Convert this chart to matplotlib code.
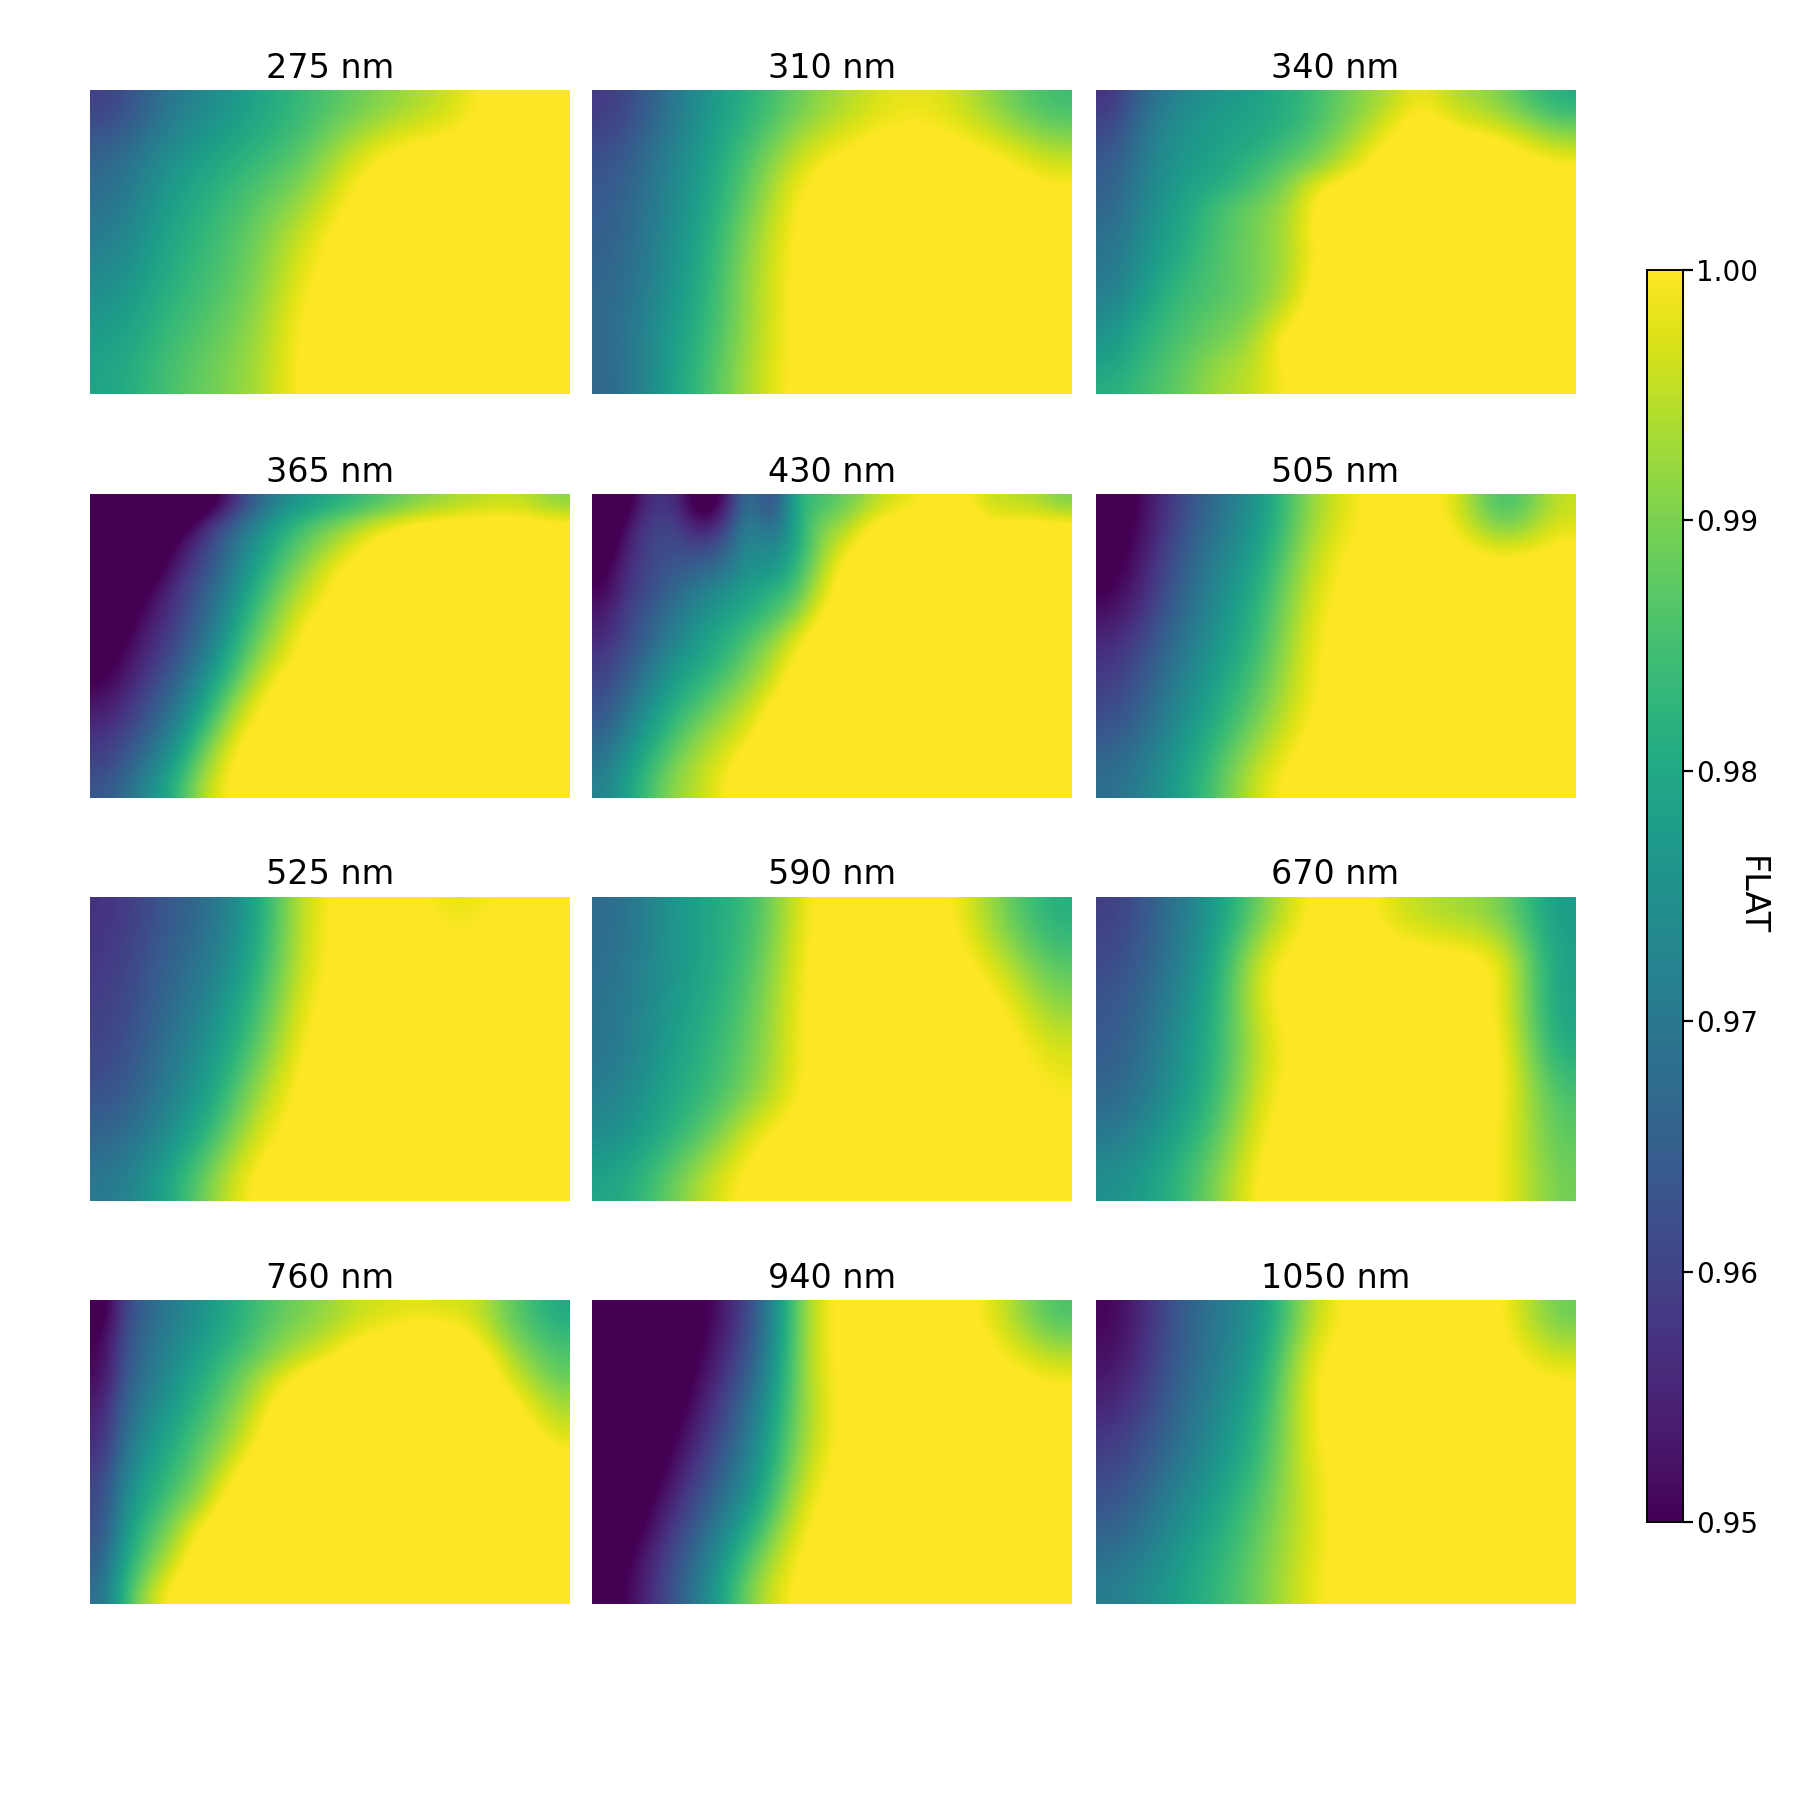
#!/usr/bin/env python3
import numpy as np
import matplotlib
matplotlib.use('Agg')
import matplotlib.pyplot as plt

# FLAT maps per wavelength, in thousandths; rows run top to bottom
flat_275 = [
    [959, 969, 974, 979, 984, 988, 992, 996, 1002, 1003],
    [966, 974, 979, 983, 987, 997, 1003, 1003, 1003, 1003],
    [968, 977, 982, 987, 992, 1002, 1003, 1003, 1003, 1003],
    [971, 979, 984, 989, 998, 1003, 1003, 1003, 1003, 1003],
    [974, 981, 985, 990, 1000, 1003, 1003, 1003, 1003, 1003],
    [977, 983, 987, 992, 1002, 1003, 1003, 1003, 1003, 1003],
    [979, 985, 989, 993, 1002, 1003, 1003, 1003, 1003, 1003],
]
flat_310 = [
    [958, 968, 977, 983, 990, 995, 999, 997, 990, 984],
    [962, 971, 979, 988, 998, 1002, 1003, 1003, 1001, 995],
    [964, 972, 980, 991, 1003, 1003, 1003, 1003, 1003, 1002],
    [965, 973, 982, 994, 1003, 1003, 1003, 1003, 1003, 1003],
    [966, 974, 983, 995, 1003, 1003, 1003, 1003, 1003, 1003],
    [967, 976, 984, 995, 1003, 1003, 1003, 1003, 1003, 1003],
    [966, 977, 986, 996, 1003, 1003, 1003, 1003, 1003, 1003],
]
flat_340 = [
    [957, 968, 973, 976, 978, 981, 985, 990, 994, 1000, 994, 992, 986, 981],
    [960, 970, 975, 978, 979, 981, 986, 991, 997, 1003, 998, 996, 992, 987],
    [962, 971, 976, 978, 980, 984, 988, 994, 1001, 1003, 1003, 1002, 998, 994],
    [964, 972, 977, 979, 983, 987, 991, 998, 1003, 1003, 1003, 1003, 1003, 1000],
    [965, 973, 978, 981, 985, 990, 1000, 1003, 1003, 1003, 1003, 1003, 1003, 1003],
    [966, 974, 979, 985, 989, 992, 1002, 1003, 1003, 1003, 1003, 1003, 1003, 1003],
    [968, 975, 980, 985, 989, 993, 1002, 1003, 1003, 1003, 1003, 1003, 1003, 1003],
    [969, 976, 981, 986, 989, 993, 1001, 1003, 1003, 1003, 1003, 1003, 1003, 1003],
    [970, 977, 983, 986, 989, 993, 1002, 1003, 1003, 1003, 1003, 1003, 1003, 1003],
    [971, 979, 984, 986, 989, 994, 1003, 1003, 1003, 1003, 1003, 1003, 1003, 1003],
    [974, 981, 985, 988, 990, 998, 1003, 1003, 1003, 1003, 1003, 1003, 1003, 1003],
    [976, 983, 986, 989, 992, 1002, 1003, 1003, 1003, 1003, 1003, 1003, 1003, 1003],
    [978, 984, 987, 992, 994, 1001, 1003, 1003, 1003, 1003, 1003, 1003, 1003, 1003],
    [981, 985, 988, 993, 995, 1000, 1003, 1003, 1003, 1003, 1003, 1003, 1003, 1003],
]
flat_365 = [
    [940, 940, 940, 945, 961, 973, 978, 982, 986, 990, 993, 995, 996, 991],
    [940, 940, 944, 958, 969, 980, 987, 992, 998, 1002, 1003, 1003, 1003, 1002],
    [940, 940, 951, 961, 973, 983, 990, 997, 1003, 1003, 1003, 1003, 1003, 1003],
    [940, 943, 954, 963, 975, 986, 994, 1002, 1003, 1003, 1003, 1003, 1003, 1003],
    [940, 948, 957, 966, 978, 989, 997, 1003, 1003, 1003, 1003, 1003, 1003, 1003],
    [942, 951, 958, 968, 981, 992, 1000, 1003, 1003, 1003, 1003, 1003, 1003, 1003],
    [945, 953, 960, 970, 984, 994, 1003, 1003, 1003, 1003, 1003, 1003, 1003, 1003],
    [947, 955, 962, 973, 987, 997, 1003, 1003, 1003, 1003, 1003, 1003, 1003, 1003],
    [949, 957, 965, 977, 990, 1001, 1003, 1003, 1003, 1003, 1003, 1003, 1003, 1003],
    [952, 960, 968, 981, 995, 1003, 1003, 1003, 1003, 1003, 1003, 1003, 1003, 1003],
    [955, 962, 971, 985, 999, 1003, 1003, 1003, 1003, 1003, 1003, 1003, 1003, 1003],
    [958, 965, 975, 990, 1002, 1003, 1003, 1003, 1003, 1003, 1003, 1003, 1003, 1003],
    [960, 968, 979, 994, 1003, 1003, 1003, 1003, 1003, 1003, 1003, 1003, 1003, 1003],
    [963, 972, 982, 997, 1003, 1003, 1003, 1003, 1003, 1003, 1003, 1003, 1003, 1003],
]
flat_430 = [
    [940, 948, 958, 957, 945, 950, 972, 958, 982, 985, 988, 993, 997, 999, 1001, 1001, 996, 995, 994, 990],
    [942, 953, 960, 960, 952, 958, 974, 965, 980, 990, 993, 1000, 1003, 1003, 1003, 1003, 1001, 1001, 1002, 1002],
    [945, 955, 961, 962, 960, 964, 975, 972, 980, 991, 998, 1003, 1003, 1003, 1003, 1003, 1003, 1003, 1003, 1003],
    [948, 957, 961, 964, 966, 969, 976, 975, 983, 993, 1002, 1003, 1003, 1003, 1003, 1003, 1003, 1003, 1003, 1003],
    [950, 958, 962, 967, 971, 975, 978, 982, 986, 996, 1003, 1003, 1003, 1003, 1003, 1003, 1003, 1003, 1003, 1003],
    [953, 960, 965, 970, 974, 978, 981, 985, 990, 1000, 1003, 1003, 1003, 1003, 1003, 1003, 1003, 1003, 1003, 1003],
    [955, 961, 966, 972, 977, 981, 985, 990, 997, 1003, 1003, 1003, 1003, 1003, 1003, 1003, 1003, 1003, 1003, 1003],
    [958, 963, 969, 975, 979, 983, 988, 994, 1000, 1003, 1003, 1003, 1003, 1003, 1003, 1003, 1003, 1003, 1003, 1003],
    [960, 965, 972, 978, 982, 986, 991, 996, 1003, 1003, 1003, 1003, 1003, 1003, 1003, 1003, 1003, 1003, 1003, 1003],
    [962, 968, 975, 981, 985, 990, 994, 1000, 1003, 1003, 1003, 1003, 1003, 1003, 1003, 1003, 1003, 1003, 1003, 1003],
    [964, 971, 978, 984, 989, 993, 997, 1003, 1003, 1003, 1003, 1003, 1003, 1003, 1003, 1003, 1003, 1003, 1003, 1003],
    [967, 974, 981, 987, 992, 996, 1000, 1003, 1003, 1003, 1003, 1003, 1003, 1003, 1003, 1003, 1003, 1003, 1003, 1003],
    [970, 977, 984, 990, 995, 998, 1003, 1003, 1003, 1003, 1003, 1003, 1003, 1003, 1003, 1003, 1003, 1003, 1003, 1003],
    [972, 979, 986, 992, 995, 1000, 1003, 1003, 1003, 1003, 1003, 1003, 1003, 1003, 1003, 1003, 1003, 1003, 1003, 1003],
]
flat_505 = [
    [945, 958, 968, 977, 993, 1000, 1003, 999, 980, 996],
    [947, 961, 972, 980, 996, 1002, 1003, 1003, 1002, 1003],
    [950, 963, 974, 983, 998, 1003, 1003, 1003, 1003, 1003],
    [956, 967, 976, 985, 1000, 1003, 1003, 1003, 1003, 1003],
    [959, 970, 979, 988, 1000, 1003, 1003, 1003, 1003, 1003],
    [963, 973, 982, 992, 1002, 1003, 1003, 1003, 1003, 1003],
    [968, 976, 986, 999, 1003, 1003, 1003, 1003, 1003, 1003],
]
flat_525 = [
    [957, 963, 968, 979, 998, 1002, 1003, 997, 1000, 1003],
    [958, 965, 970, 981, 998, 1003, 1003, 1003, 1003, 1003],
    [959, 966, 973, 984, 1000, 1003, 1003, 1003, 1003, 1003],
    [960, 968, 976, 987, 1002, 1003, 1003, 1003, 1003, 1003],
    [962, 970, 978, 993, 1003, 1003, 1003, 1003, 1003, 1003],
    [966, 973, 983, 998, 1003, 1003, 1003, 1003, 1003, 1003],
    [970, 978, 991, 1003, 1003, 1003, 1003, 1003, 1003, 1003],
]
flat_590 = [
    [967, 975, 980, 985, 1001, 1003, 1003, 1001, 990, 981],
    [968, 975, 980, 987, 1002, 1003, 1003, 1003, 996, 986],
    [969, 976, 981, 989, 1002, 1003, 1003, 1003, 1002, 991],
    [969, 977, 983, 990, 1002, 1003, 1003, 1003, 1003, 997],
    [971, 979, 984, 991, 1002, 1003, 1003, 1003, 1003, 999],
    [974, 981, 988, 1001, 1003, 1003, 1003, 1003, 1003, 1003],
    [979, 987, 997, 1003, 1003, 1003, 1003, 1003, 1003, 1003],
]
flat_670 = [
    [959, 968, 977, 990, 1002, 1002, 995, 993, 990, 977],
    [961, 969, 979, 1000, 1003, 1003, 1003, 1003, 1001, 978],
    [963, 971, 981, 1000, 1003, 1003, 1003, 1003, 1000, 978],
    [964, 973, 982, 997, 1003, 1003, 1003, 1003, 1002, 980],
    [966, 974, 983, 999, 1003, 1003, 1003, 1003, 1002, 985],
    [970, 978, 986, 1001, 1003, 1003, 1003, 1003, 1000, 987],
    [975, 981, 990, 1003, 1003, 1003, 1003, 1003, 1000, 989],
]
flat_760 = [
    [946, 961, 967, 971, 975, 979, 983, 986, 989, 991, 994, 996, 997, 998, 997, 997, 994, 988, 984, 980],
    [949, 962, 968, 972, 976, 980, 984, 988, 991, 993, 996, 999, 1000, 1002, 1002, 1001, 996, 990, 986, 983],
    [950, 963, 969, 974, 978, 982, 986, 990, 994, 997, 1001, 1003, 1003, 1003, 1003, 1003, 1001, 994, 989, 986],
    [951, 964, 970, 975, 980, 985, 990, 995, 1000, 1003, 1003, 1003, 1003, 1003, 1003, 1003, 1003, 997, 992, 988],
    [953, 966, 972, 977, 982, 987, 992, 999, 1003, 1003, 1003, 1003, 1003, 1003, 1003, 1003, 1003, 1001, 996, 992],
    [955, 967, 974, 979, 984, 989, 995, 1001, 1003, 1003, 1003, 1003, 1003, 1003, 1003, 1003, 1003, 1003, 999, 995],
    [956, 969, 976, 981, 986, 991, 997, 1003, 1003, 1003, 1003, 1003, 1003, 1003, 1003, 1003, 1003, 1003, 1002, 998],
    [958, 971, 978, 983, 988, 994, 1001, 1003, 1003, 1003, 1003, 1003, 1003, 1003, 1003, 1003, 1003, 1003, 1003, 1002],
    [960, 973, 980, 985, 990, 998, 1003, 1003, 1003, 1003, 1003, 1003, 1003, 1003, 1003, 1003, 1003, 1003, 1003, 1003],
    [961, 975, 982, 988, 993, 1002, 1003, 1003, 1003, 1003, 1003, 1003, 1003, 1003, 1003, 1003, 1003, 1003, 1003, 1003],
    [962, 977, 985, 991, 1000, 1003, 1003, 1003, 1003, 1003, 1003, 1003, 1003, 1003, 1003, 1003, 1003, 1003, 1003, 1003],
    [964, 979, 988, 994, 1003, 1003, 1003, 1003, 1003, 1003, 1003, 1003, 1003, 1003, 1003, 1003, 1003, 1003, 1003, 1003],
    [966, 982, 990, 999, 1003, 1003, 1003, 1003, 1003, 1003, 1003, 1003, 1003, 1003, 1003, 1003, 1003, 1003, 1003, 1003],
    [968, 984, 995, 1002, 1003, 1003, 1003, 1003, 1003, 1003, 1003, 1003, 1003, 1003, 1003, 1003, 1003, 1003, 1003, 1003],
]
flat_940 = [
    [940, 942, 950, 963, 997, 1003, 1003, 1003, 997, 985],
    [940, 943, 953, 966, 997, 1003, 1003, 1003, 1002, 997],
    [940, 945, 956, 972, 995, 1003, 1003, 1003, 1003, 1003],
    [940, 948, 960, 975, 996, 1003, 1003, 1003, 1003, 1003],
    [940, 952, 965, 978, 1000, 1003, 1003, 1003, 1003, 1003],
    [944, 957, 970, 986, 1003, 1003, 1003, 1003, 1003, 1003],
    [947, 960, 975, 995, 1003, 1003, 1003, 1003, 1003, 1003],
]
flat_1050 = [
    [950, 962, 970, 976, 996, 1002, 1003, 1003, 1001, 988],
    [952, 963, 971, 979, 1001, 1003, 1003, 1003, 1002, 998],
    [955, 965, 973, 982, 1001, 1003, 1003, 1003, 1003, 1003],
    [959, 967, 975, 984, 1000, 1003, 1003, 1003, 1003, 1003],
    [962, 971, 978, 987, 998, 1003, 1003, 1003, 1003, 1003],
    [966, 974, 981, 989, 998, 1003, 1003, 1003, 1003, 1003],
    [971, 977, 983, 990, 999, 1003, 1003, 1003, 1003, 1003],
]

wavelengths = [275, 310, 340, 365, 430, 505, 525, 590, 670, 760, 940, 1050]
flat_maps = [flat_275, flat_310, flat_340, flat_365, flat_430, flat_505,
             flat_525, flat_590, flat_670, flat_760, flat_940, flat_1050]
cbar_ticks = [0.95, 0.96, 0.97, 0.98, 0.99, 1.00]

fig = plt.figure(figsize=(8.965, 8.965), dpi=200)

# panel geometry in figure fractions
lefts = [0.0504, 0.3304, 0.6110]
tops = [0.0504, 0.2755, 0.5000, 0.7251]
width = 0.2676
height = 0.1696

for i, (nm, grid) in enumerate(zip(wavelengths, flat_maps)):
    row, col = divmod(i, 3)
    ax = fig.add_axes([lefts[col], 1 - tops[row] - height, width, height])
    im = ax.imshow(np.array(grid) / 1000, cmap='viridis', vmin=0.95, vmax=1.0,
                   aspect='auto', interpolation='bicubic')
    ax.set_title(f'{nm} nm', fontsize=12, pad=4.4)
    ax.axis('off')

cax = fig.add_axes([0.9184, 1 - 0.8489, 0.0204, 0.6984])
cbar = fig.colorbar(im, cax=cax)
cbar.set_ticks(cbar_ticks)
cbar.ax.set_yticklabels([f'{t:.2f}' for t in cbar_ticks])
cbar.ax.tick_params(pad=1)
cbar.outline.set_linewidth(0.7)
cbar.set_label('FLAT', rotation=270, fontsize=12, labelpad=3.5)

fig.savefig('out.png', dpi=200)
